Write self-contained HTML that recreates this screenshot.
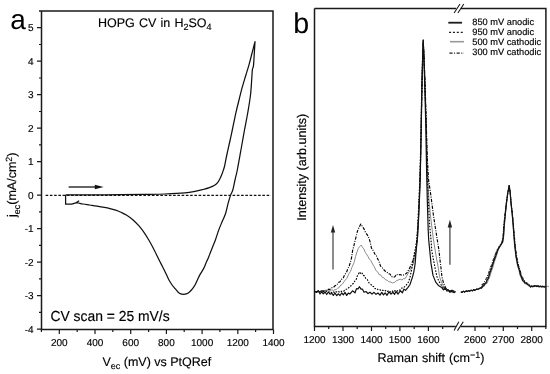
<!DOCTYPE html>
<html><head><meta charset="utf-8"><title>HOPG CV and Raman</title>
<style>html,body{margin:0;padding:0;background:#fff;}body{width:550px;height:374px;overflow:hidden;}svg{display:block;}</style>
</head><body>
<svg width="550" height="374" viewBox="0 0 550 374" fill="#000">
<style>text{stroke:#000;stroke-width:0.15px;text-rendering:geometricPrecision;} .big{stroke:none;}</style>
<rect width="550" height="374" fill="#fff"/>
<text class="big" x="10.3" y="29.4" font-size="28" font-family="Liberation Sans, Arial, sans-serif">a</text>
<path d="M39 10.9H273.0V329.5H41.5V10.9" fill="none" stroke="#1a1a1a" stroke-width="1.5"/>
<text x="33.6" y="332.6" font-size="10" text-anchor="end" font-family="Liberation Sans, Arial, sans-serif">-4</text>
<text x="33.6" y="299.1" font-size="10" text-anchor="end" font-family="Liberation Sans, Arial, sans-serif">-3</text>
<text x="33.6" y="265.6" font-size="10" text-anchor="end" font-family="Liberation Sans, Arial, sans-serif">-2</text>
<text x="33.6" y="232.1" font-size="10" text-anchor="end" font-family="Liberation Sans, Arial, sans-serif">-1</text>
<text x="33.6" y="198.6" font-size="10" text-anchor="end" font-family="Liberation Sans, Arial, sans-serif">0</text>
<text x="33.6" y="165.1" font-size="10" text-anchor="end" font-family="Liberation Sans, Arial, sans-serif">1</text>
<text x="33.6" y="131.6" font-size="10" text-anchor="end" font-family="Liberation Sans, Arial, sans-serif">2</text>
<text x="33.6" y="98.1" font-size="10" text-anchor="end" font-family="Liberation Sans, Arial, sans-serif">3</text>
<text x="33.6" y="64.6" font-size="10" text-anchor="end" font-family="Liberation Sans, Arial, sans-serif">4</text>
<text x="33.6" y="31.1" font-size="10" text-anchor="end" font-family="Liberation Sans, Arial, sans-serif">5</text>
<text x="59.3" y="346.0" font-size="10" text-anchor="middle" font-family="Liberation Sans, Arial, sans-serif">200</text>
<text x="95.0" y="346.0" font-size="10" text-anchor="middle" font-family="Liberation Sans, Arial, sans-serif">400</text>
<text x="130.7" y="346.0" font-size="10" text-anchor="middle" font-family="Liberation Sans, Arial, sans-serif">600</text>
<text x="166.4" y="346.0" font-size="10" text-anchor="middle" font-family="Liberation Sans, Arial, sans-serif">800</text>
<text x="202.1" y="346.0" font-size="10" text-anchor="middle" font-family="Liberation Sans, Arial, sans-serif">1000</text>
<text x="237.8" y="346.0" font-size="10" text-anchor="middle" font-family="Liberation Sans, Arial, sans-serif">1200</text>
<text x="273.5" y="346.0" font-size="10" text-anchor="middle" font-family="Liberation Sans, Arial, sans-serif">1400</text>
<path d="M37.0 329.2H41.5M39.0 312.4H41.5M37.0 295.7H41.5M39.0 278.9H41.5M37.0 262.2H41.5M39.0 245.4H41.5M37.0 228.7H41.5M39.0 211.9H41.5M37.0 195.2H41.5M39.0 178.4H41.5M37.0 161.7H41.5M39.0 144.9H41.5M37.0 128.2H41.5M39.0 111.5H41.5M37.0 94.7H41.5M39.0 78.0H41.5M37.0 61.2H41.5M39.0 44.5H41.5M37.0 27.7H41.5M41.4 329.5V332.0M59.3 329.5V334.0M77.2 329.5V332.0M95.0 329.5V334.0M112.8 329.5V332.0M130.7 329.5V334.0M148.6 329.5V332.0M166.4 329.5V334.0M184.2 329.5V332.0M202.1 329.5V334.0M219.9 329.5V332.0M237.8 329.5V334.0M255.6 329.5V332.0M273.5 329.5V334.0" stroke="#1a1a1a" stroke-width="1.2" fill="none"/>
<text x="98.0" y="26.6" font-size="12.5" word-spacing="0.7" font-family="Liberation Sans, Arial, sans-serif">HOPG CV in H<tspan font-size="9" dy="3.2">2</tspan><tspan dy="-3.2">SO</tspan><tspan font-size="9" dy="3.2">4</tspan></text>
<text transform="translate(50.4 321.2) scale(1 1.05)" font-size="13.9" font-family="Liberation Sans, Arial, sans-serif">CV scan = 25 mV/s</text>
<text x="102.4" y="365.6" font-size="12.5" font-family="Liberation Sans, Arial, sans-serif">V<tspan font-size="9" dy="3.2">ec</tspan><tspan dy="-3.2"> (mV) vs PtQRef</tspan></text>
<text transform="translate(16.2 217) rotate(-90)" font-size="12.5" font-family="Liberation Sans, Arial, sans-serif">j<tspan font-size="9" dy="3.6">ec</tspan><tspan dy="-3.6">(mA/cm</tspan><tspan font-size="9" dy="-4.5">2</tspan><tspan dy="4.5">)</tspan></text>
<line x1="45.6" y1="195.4" x2="271" y2="195.4" stroke="#111" stroke-width="1.1" stroke-dasharray="2.6 1.65"/>
<line x1="68.6" y1="187" x2="96" y2="187" stroke="#4a4a4a" stroke-width="1.7"/>
<path d="M94.8 184.8 L103.6 187 L94.8 189.2 Z" fill="#111"/>
<path d="M65.60 194.90C69.67 194.90 80.93 194.93 90.00 194.90C99.07 194.87 110.83 194.78 120.00 194.70C129.17 194.62 137.50 194.52 145.00 194.40C152.50 194.28 158.33 194.25 165.00 194.00C171.67 193.75 180.00 193.33 185.00 192.90C190.00 192.47 192.00 191.97 195.00 191.40C198.00 190.83 200.60 190.13 203.00 189.50C205.40 188.87 207.47 188.30 209.40 187.60C211.33 186.90 213.27 186.10 214.60 185.30C215.93 184.50 216.55 183.82 217.40 182.80C218.25 181.78 219.00 180.48 219.70 179.20C220.40 177.92 221.02 176.53 221.60 175.10C222.18 173.67 222.70 172.12 223.20 170.60C223.70 169.08 224.00 168.60 224.60 166.00C225.20 163.40 225.95 159.00 226.80 155.00C227.65 151.00 228.78 146.17 229.70 142.00C230.62 137.83 231.25 134.95 232.30 130.00C233.35 125.05 234.88 117.30 236.00 112.30C237.12 107.30 238.00 104.02 239.00 100.00C240.00 95.98 240.90 92.20 242.00 88.20C243.10 84.20 244.40 80.02 245.60 76.00C246.80 71.98 248.10 68.02 249.20 64.10C250.30 60.18 251.23 56.25 252.20 52.50C253.17 48.75 254.53 43.42 255.00 41.60C254.92 43.00 254.68 46.93 254.50 50.00C254.32 53.07 254.08 57.28 253.90 60.00C253.72 62.72 253.65 64.72 253.40 66.30C253.15 67.88 252.67 67.55 252.40 69.50C252.13 71.45 252.12 73.75 251.80 78.00C251.48 82.25 251.18 89.17 250.50 95.00C249.82 100.83 248.70 107.17 247.70 113.00C246.70 118.83 245.57 124.17 244.50 130.00C243.43 135.83 242.50 141.33 241.30 148.00C240.10 154.67 238.35 164.67 237.30 170.00C236.25 175.33 235.75 176.67 235.00 180.00C234.25 183.33 233.55 187.43 232.80 190.00C232.05 192.57 231.28 193.17 230.50 195.40C229.72 197.63 228.95 200.30 228.10 203.40C227.25 206.50 226.42 210.90 225.40 214.00C224.38 217.10 223.12 219.32 222.00 222.00C220.88 224.68 219.80 227.10 218.70 230.10C217.60 233.10 216.33 237.40 215.40 240.00C214.47 242.60 213.88 243.75 213.10 245.70C212.32 247.65 211.48 249.70 210.70 251.70C209.92 253.70 209.18 255.82 208.40 257.70C207.62 259.58 206.78 261.22 206.00 263.00C205.22 264.78 204.75 266.38 203.70 268.40C202.65 270.42 200.75 273.17 199.70 275.10C198.65 277.03 198.18 278.35 197.40 280.00C196.62 281.65 195.80 283.57 195.00 285.00C194.20 286.43 193.52 287.45 192.60 288.60C191.68 289.75 190.55 291.02 189.50 291.90C188.45 292.78 187.30 293.50 186.30 293.90C185.30 294.30 184.42 294.30 183.50 294.30C182.58 294.30 181.68 294.25 180.80 293.90C179.92 293.55 179.27 293.22 178.20 292.20C177.13 291.18 175.42 289.00 174.40 287.80C173.38 286.60 173.05 286.38 172.10 285.00C171.15 283.62 169.82 281.60 168.70 279.50C167.58 277.40 166.40 274.48 165.40 272.40C164.40 270.32 163.60 268.78 162.70 267.00C161.80 265.22 160.90 263.48 160.00 261.70C159.10 259.92 158.18 258.08 157.30 256.30C156.42 254.52 155.65 252.88 154.70 251.00C153.75 249.12 152.58 246.83 151.60 245.00C150.62 243.17 149.98 241.98 148.80 240.00C147.62 238.02 146.10 235.40 144.50 233.10C142.90 230.80 141.15 228.42 139.20 226.20C137.25 223.98 134.93 221.67 132.80 219.80C130.67 217.93 128.37 216.25 126.40 215.00C124.43 213.75 122.78 213.12 121.00 212.30C119.22 211.48 117.53 210.72 115.70 210.10C113.87 209.48 111.88 209.05 110.00 208.60C108.12 208.15 106.57 207.82 104.40 207.40C102.23 206.98 99.45 206.50 97.00 206.10C94.55 205.70 92.03 205.35 89.70 205.00C87.37 204.65 84.87 204.33 83.00 204.00C81.13 203.67 79.60 203.23 78.50 203.00C77.40 202.77 76.75 202.67 76.40 202.60L78.7 201.1L76.6 202.6L71.8 204.2L65.6 204.2L65.6 194.9" fill="none" stroke="#111" stroke-width="1.25" stroke-linejoin="round"/>
<text class="big" x="293.3" y="32.8" font-size="28.6" font-family="Liberation Sans, Arial, sans-serif">b</text>
<path d="M314.5 8.5H456.2M460.8 8.5H545.9V326.4H460.6M455.8 326.4H314.5V8.5" fill="none" stroke="#1a1a1a" stroke-width="1.5"/>
<path d="M454.1 13L460 4M457.9 13L463.8 4M454.1 330.6L458.8 321.7M457.5 330.6L463.3 321.7" stroke="#1a1a1a" stroke-width="1.1" fill="none"/>
<text x="314.5" y="343.2" font-size="10" text-anchor="middle" font-family="Liberation Sans, Arial, sans-serif">1200</text>
<text x="343.0" y="343.2" font-size="10" text-anchor="middle" font-family="Liberation Sans, Arial, sans-serif">1300</text>
<text x="371.5" y="343.2" font-size="10" text-anchor="middle" font-family="Liberation Sans, Arial, sans-serif">1400</text>
<text x="399.9" y="343.2" font-size="10" text-anchor="middle" font-family="Liberation Sans, Arial, sans-serif">1500</text>
<text x="428.4" y="343.2" font-size="10" text-anchor="middle" font-family="Liberation Sans, Arial, sans-serif">1600</text>
<text x="475.0" y="343.2" font-size="10" text-anchor="middle" font-family="Liberation Sans, Arial, sans-serif">2600</text>
<text x="503.3" y="343.2" font-size="10" text-anchor="middle" font-family="Liberation Sans, Arial, sans-serif">2700</text>
<text x="531.7" y="343.2" font-size="10" text-anchor="middle" font-family="Liberation Sans, Arial, sans-serif">2800</text>
<path d="M314.5 326.4V330.9M328.7 326.4V328.9M343.0 326.4V330.9M357.2 326.4V328.9M371.5 326.4V330.9M385.7 326.4V328.9M399.9 326.4V330.9M414.2 326.4V328.9M428.4 326.4V330.9M442.7 326.4V328.9M475.0 326.4V330.9M489.2 326.4V328.9M503.3 326.4V330.9M517.5 326.4V328.9M531.7 326.4V330.9M545.8 326.4V328.9" stroke="#1a1a1a" stroke-width="1.2" fill="none"/>
<text x="377.4" y="361.8" font-size="12.6" word-spacing="0.5" font-family="Liberation Sans, Arial, sans-serif">Raman shift (cm<tspan font-size="9" dy="-3.6">−1</tspan><tspan dy="3.6">)</tspan></text>
<text transform="translate(306.3 220.8) rotate(-90)" font-size="12.6" font-family="Liberation Sans, Arial, sans-serif">Intensity (arb.units)</text>
<line x1="448.3" y1="22.7" x2="462" y2="22.7" stroke="#1a1a1a" stroke-width="1.8"/>
<line x1="449" y1="32.3" x2="463.8" y2="32.3" stroke="#222" stroke-width="1.3" stroke-dasharray="2.1 1.8"/>
<line x1="450" y1="41.7" x2="464" y2="41.7" stroke="#999" stroke-width="1.6"/>
<line x1="449.4" y1="53.2" x2="464" y2="53.2" stroke="#222" stroke-width="1.3" stroke-dasharray="3.2 1.5 1 1.5"/>
<text x="472.3" y="25.3" font-size="9.25" font-family="Liberation Sans, Arial, sans-serif">850 mV anodic</text>
<text x="472.3" y="35.2" font-size="9.25" font-family="Liberation Sans, Arial, sans-serif">950 mV anodic</text>
<text x="472.3" y="44.5" font-size="9.25" font-family="Liberation Sans, Arial, sans-serif">500 mV cathodic</text>
<text x="472.3" y="55.2" font-size="9.25" font-family="Liberation Sans, Arial, sans-serif">300 mV cathodic</text>
<line x1="333" y1="231" x2="333" y2="269.6" stroke="#666" stroke-width="1.5"/>
<path d="M330.8 232.4 L333 225 L335.2 232.4 Z" fill="#222"/>
<line x1="449.9" y1="226" x2="449.9" y2="264.8" stroke="#666" stroke-width="1.5"/>
<path d="M447.7 227.6 L449.9 219.8 L452.1 227.6 Z" fill="#222"/>
<polyline points="315.0,291.5 316.8,291.9 318.5,290.9 320.2,291.8 322.0,290.6 323.6,291.6 325.2,290.4 326.8,291.0 328.4,290.3 330.0,291.1 331.7,289.8 333.3,290.6 335.0,289.6 336.2,289.6 337.5,288.3 338.8,287.9 340.0,285.9 342.3,284.2 344.5,281.0 346.8,278.3 349.1,273.4 350.5,271.4 351.8,267.5 354.1,262.5 355.6,256.3 357.0,251.9 358.2,248.6 359.5,246.8 361.2,245.1 362.5,247.3 363.8,248.9 365.5,252.7 367.9,256.3 369.4,259.2 370.8,260.4 373.0,264.9 374.4,266.9 375.9,270.5 377.4,271.5 379.0,274.5 380.6,274.8 382.3,277.4 383.9,277.8 385.5,279.8 387.1,280.2 388.7,281.6 391.0,282.1 392.2,283.0 393.5,282.6 394.9,282.3 396.2,280.8 398.4,279.9 400.2,279.2 402.0,280.0 403.5,278.7 405.0,278.7 407.0,275.4 409.7,270.7 413.0,264.7 415.2,256.0 416.5,248.0 417.7,235.0 418.8,215.0 419.8,190.0 420.6,160.0 421.2,130.0 422.0,85.0 422.8,55.0 423.2,41.0 423.9,55.0 424.8,80.0 426.2,125.0 427.0,160.0 427.8,180.0 429.0,200.0 430.4,215.0 433.2,238.0 435.1,250.0 436.8,260.0 438.3,268.0 439.5,276.7 441.0,281.0 443.0,285.5 444.5,288.0 446.0,288.2 447.3,290.2 448.7,289.9 450.0,291.3 451.2,290.6 452.5,292.1 453.8,291.0 455.0,292.0" fill="none" stroke="#8c8c8c" stroke-width="1.0" stroke-linejoin="round"/>
<polyline points="460.9,292.2 462.2,292.4 463.4,291.4 464.7,292.2 466.0,291.0 467.2,291.6 468.5,290.6 469.8,291.1 471.0,290.2 472.3,290.8 473.7,289.7 475.0,290.2 476.8,289.2 478.5,289.2 480.0,287.7 481.5,288.0 482.7,286.6 483.9,286.6 485.1,284.7 487.2,283.2 488.3,279.9 489.3,278.2 491.0,272.8 492.7,267.9 494.6,261.3 496.5,255.8 498.4,249.7 500.0,247.0 501.6,244.1 502.9,241.9 503.8,235.5 504.4,225.3 505.4,214.6 506.6,202.9 507.9,192.8 509.2,186.2 510.1,193.0 510.9,203.1 512.1,213.4 513.0,225.4 513.8,235.5 514.5,245.3 515.8,256.4 517.4,265.3 518.9,270.3 519.9,275.1 521.9,279.7 523.1,281.8 524.2,282.3 525.4,284.0 526.5,283.7 528.0,285.6 529.5,286.3 530.7,287.0 531.8,285.8 533.7,286.4 535.1,285.8 536.6,286.7 537.7,286.0 538.7,286.9 540.0,286.3 541.3,287.0 542.5,286.3 543.7,286.5" fill="none" stroke="#8c8c8c" stroke-width="1.0" stroke-linejoin="round"/>
<polyline points="315.0,291.5 316.7,291.7 318.3,291.1 320.0,291.7 321.7,290.8 323.3,291.1 325.0,290.2 326.7,290.3 328.3,289.2 330.0,289.4 331.8,287.8 333.5,287.4 335.1,285.7 336.8,285.0 338.4,282.5 340.0,281.7 341.6,279.3 343.2,278.0 344.8,274.4 346.4,272.7 347.8,268.7 349.1,266.4 350.5,261.8 351.6,257.5 352.6,250.7 353.8,246.2 354.9,241.3 356.1,236.8 357.3,231.6 359.0,227.5 360.8,224.1 362.5,226.6 364.0,228.9 365.5,232.4 367.3,234.8 369.0,238.2 370.2,242.2 371.4,247.9 373.5,251.1 374.9,254.1 376.4,255.6 377.6,258.9 378.8,260.7 380.5,266.0 382.8,268.3 384.6,270.7 386.5,271.6 388.2,273.7 390.0,274.0 391.6,276.6 393.3,277.4 394.9,276.7 396.5,274.3 398.2,275.1 400.0,274.5 401.9,275.4 403.7,274.9 405.3,274.3 406.9,272.9 410.0,267.2 413.0,260.5 415.7,252.7 416.8,242.0 418.0,225.0 419.2,200.0 420.3,170.0 421.1,135.0 421.9,95.0 422.7,60.0 423.2,41.0 424.0,55.0 425.0,80.0 426.3,125.0 427.4,160.0 428.6,180.0 430.8,195.0 432.1,205.0 433.4,215.0 435.4,228.0 437.3,240.0 438.9,250.0 440.0,260.0 441.0,268.0 441.9,276.7 443.5,283.0 445.5,287.5 446.8,289.5 448.0,289.5 449.5,291.4 451.0,290.7 452.3,292.1 453.7,291.5 455.0,292.2" fill="none" stroke="#000" stroke-width="1.15" stroke-dasharray="3.2 1.3 1 1.3" stroke-linejoin="round"/>
<polyline points="460.9,292.2 462.2,292.4 463.4,291.3 464.7,292.1 466.0,291.1 467.2,291.4 468.5,290.6 469.8,291.1 471.0,290.0 472.3,290.9 473.7,289.7 475.0,290.5 476.8,289.0 478.5,289.3 480.0,287.8 481.5,287.8 481.8,284.6 483.0,284.2 484.1,282.1 485.4,280.6 486.6,277.5 488.5,273.4 490.4,267.1 491.5,265.1 492.6,261.3 493.6,258.7 494.7,254.8 495.8,253.2 496.9,249.7 498.7,247.5 500.6,243.8 502.1,241.8 503.0,235.6 503.8,225.2 504.9,214.6 506.3,203.0 507.7,192.8 509.2,186.0 510.3,192.9 511.1,202.8 512.4,213.4 513.5,225.3 514.4,235.6 515.2,245.5 516.7,256.3 518.5,265.4 520.2,270.3 521.4,275.2 522.5,276.6 523.7,280.7 525.0,280.8 526.3,283.0 527.6,283.0 528.9,284.7 530.6,284.9 532.3,286.9 533.6,286.1 534.9,286.6 536.0,285.5 537.1,286.4 538.7,285.7 540.3,286.7 541.5,285.8 542.8,286.8 544.2,286.1 545.7,287.1 547.1,286.2 548.4,286.5" fill="none" stroke="#111" stroke-width="1.0" stroke-dasharray="3.2 1.3 1 1.3" stroke-linejoin="round"/>
<polyline points="315.0,291.5 316.4,291.9 317.8,291.1 319.2,292.1 320.6,291.2 322.0,292.3 323.6,291.6 325.2,292.1 326.8,291.3 328.4,292.3 330.0,291.7 331.5,292.7 333.0,291.6 334.5,292.6 336.0,291.6 337.3,292.5 338.7,291.7 340.0,292.5 341.8,291.2 343.6,291.3 345.5,289.2 347.3,289.2 349.1,287.3 350.3,286.9 351.5,284.7 353.6,283.3 355.2,280.3 356.4,279.0 357.4,275.6 358.3,274.4 359.5,271.9 360.6,273.5 361.8,272.7 363.1,275.4 364.5,275.9 365.9,278.8 367.3,279.5 369.1,283.1 370.9,284.4 372.3,286.1 373.6,286.6 375.0,288.7 376.7,288.3 378.3,290.0 380.0,289.8 381.4,290.9 382.8,290.2 384.3,291.2 385.7,290.6 387.1,291.8 388.7,290.7 390.4,292.0 392.0,290.8 393.6,292.0 395.1,290.5 396.7,291.5 398.4,290.0 400.0,290.2 401.6,288.1 403.2,288.0 406.0,285.5 408.5,282.0 410.0,277.5 411.5,270.0 412.8,263.0 414.0,255.0 415.5,248.0 416.8,240.0 417.8,225.0 419.0,200.0 419.8,180.0 420.6,150.0 421.1,125.0 421.9,80.0 422.7,55.0 423.2,40.5 423.9,55.0 424.8,80.0 426.2,125.0 426.9,160.0 427.5,180.0 428.3,200.0 429.6,225.0 431.0,240.0 431.7,250.0 433.5,260.0 435.5,270.0 437.0,276.7 439.0,281.5 441.5,285.5 443.5,288.0 444.7,289.3 445.8,289.3 447.0,291.1 448.3,290.4 449.7,291.4 451.0,290.7 452.3,292.5 453.7,290.9 455.0,292.0" fill="none" stroke="#000" stroke-width="1.15" stroke-dasharray="1.6 1.4" stroke-linejoin="round"/>
<polyline points="460.9,292.2 462.2,292.3 463.4,291.3 464.7,292.1 466.0,290.8 467.2,291.5 468.5,290.7 469.8,291.1 471.0,290.3 472.3,291.0 473.7,289.9 475.0,290.5 476.8,289.2 478.5,289.4 480.0,287.8 481.5,288.1 483.0,284.8 484.2,284.2 485.3,282.4 486.5,280.6 487.7,277.4 489.4,273.6 491.3,266.9 493.3,262.1 495.4,254.9 497.5,250.7 499.2,246.2 501.0,244.8 502.4,240.9 503.3,236.4 504.1,224.3 505.1,215.5 506.4,202.1 507.8,193.5 509.2,185.0 510.2,193.5 511.1,202.2 512.3,214.6 513.3,224.3 514.1,236.7 515.0,244.5 516.3,257.2 518.1,264.4 519.7,270.8 520.8,274.1 521.9,277.7 523.0,279.7 524.2,281.6 525.5,282.1 526.7,283.7 527.9,283.8 529.6,285.9 531.2,286.2 532.5,286.7 533.7,285.7 535.8,286.1 537.3,285.8 538.9,286.8 540.0,286.1 541.2,286.6 542.6,286.1 544.0,287.5 545.3,286.2 546.6,286.5" fill="none" stroke="#111" stroke-width="1.0" stroke-dasharray="1.6 1.4" stroke-linejoin="round"/>
<polyline points="315.0,291.5 316.7,292.5 318.3,290.6 320.0,293.9 321.7,291.9 323.3,293.9 325.0,292.0 326.7,294.5 328.3,292.0 330.0,294.2 331.7,293.2 333.3,295.4 335.0,293.0 336.7,295.6 338.3,293.8 340.0,295.5 341.7,293.0 343.3,294.9 345.0,292.4 346.7,295.4 348.3,293.1 350.0,293.9 352.5,290.8 355.0,292.8 356.5,288.6 358.0,288.8 359.5,286.7 361.0,289.1 362.5,289.2 364.0,292.2 366.0,291.5 368.0,293.6 370.0,292.3 372.0,294.1 374.0,292.3 376.0,294.3 378.0,293.0 380.0,295.1 381.8,292.4 383.5,294.9 385.2,292.9 387.0,295.3 389.0,291.9 391.0,294.0 393.0,292.3 394.5,294.4 396.0,291.5 398.1,294.0 400.3,290.8 402.4,292.8 403.9,289.1 405.5,290.4 408.0,287.3 410.0,284.5 411.2,280.9 412.5,277.0 413.6,272.9 414.5,268.0 415.2,263.2 416.0,252.0 416.8,244.0 417.6,236.0 418.5,220.0 419.4,200.0 420.2,180.0 420.8,150.0 421.2,125.0 422.0,80.0 422.7,55.0 423.2,39.8 423.8,55.0 424.6,80.0 425.8,125.0 426.4,160.0 426.8,180.0 427.3,200.0 428.2,230.0 428.7,240.0 429.7,250.0 431.0,263.4 433.0,275.4 435.7,282.1 438.4,285.4 441.7,287.4 443.4,289.8 445.0,287.5 446.5,290.3 448.0,289.9 450.0,292.4 452.0,290.2 453.9,292.7 455.7,291.5" fill="none" stroke="#111" stroke-width="1.2" stroke-linejoin="round"/>
<polyline points="460.9,292.2 462.2,292.2 463.4,291.3 464.7,292.1 466.0,290.8 467.2,291.5 468.5,290.7 469.8,291.3 471.0,290.1 472.3,290.7 473.7,289.7 475.0,290.3 476.8,289.0 478.5,289.2 480.0,288.0 481.5,288.1 482.6,286.1 483.8,285.6 484.9,283.5 486.0,283.1 487.1,280.1 488.3,278.4 490.0,272.5 491.8,267.7 493.8,261.0 495.8,255.7 497.8,249.7 499.5,247.0 501.2,244.2 502.6,242.1 503.5,235.7 504.2,225.5 505.2,214.6 506.5,202.9 507.8,192.5 509.2,185.7 510.2,192.8 511.0,202.9 512.2,213.6 513.2,225.2 514.0,235.8 514.8,245.5 516.1,256.3 517.8,265.3 519.4,270.1 520.5,274.9 521.5,276.8 522.6,280.4 523.8,281.1 525.0,283.1 526.2,283.2 527.4,284.5 529.0,285.2 530.6,287.1 531.8,286.2 533.0,286.6 535.0,285.6 536.5,286.5 538.0,286.0 539.1,286.9 540.3,286.0 541.6,287.0 543.0,286.4 544.2,287.1 545.5,286.5" fill="none" stroke="#111" stroke-width="1.2" stroke-linejoin="round"/>
</svg>
</body></html>
